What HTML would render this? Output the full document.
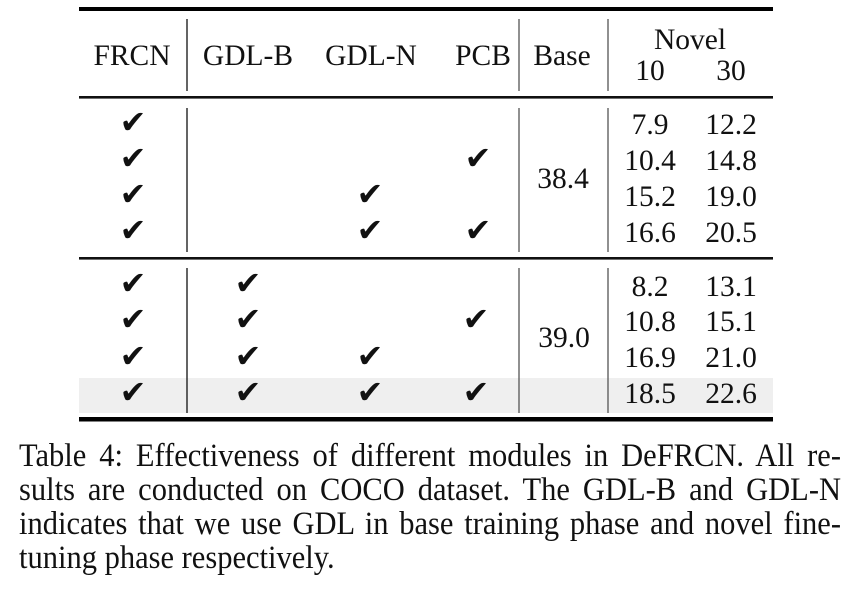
<!DOCTYPE html>
<html>
<head>
<meta charset="utf-8">
<style>
  html, body { margin: 0; padding: 0; background: #fff; }
  body { width: 856px; height: 596px; position: relative; overflow: hidden; }
  svg { position: absolute; left: 0; top: 0; }
  .t { font-family: "Liberation Serif", "Times New Roman", serif; font-size: 29.5px; fill: #111; }
  .ck { font-family: "DejaVu Sans", sans-serif; font-size: 32px; fill: #111; }
  .cap { position: absolute; left: 19px; width: 822px; font-family: "Liberation Serif", serif; font-size: 30.5px; line-height: 34px; color: #111; white-space: nowrap; transform: scaleY(1.06); transform-origin: 0 27px; }
  .j { text-align: justify; text-align-last: justify; white-space: normal; }
</style>
</head>
<body>
<svg width="856" height="596" viewBox="0 0 856 596">
  <!-- gray highlight row -->
  <rect x="79" y="378" width="694" height="35" fill="#efefef"/>
  <!-- rules -->
  <rect x="79" y="7" width="694" height="4" fill="#000"/>
  <rect x="79" y="96" width="694" height="2.6" fill="#111"/>
  <rect x="79" y="257" width="694" height="2.6" fill="#111"/>
  <rect x="79" y="417" width="694" height="4.5" fill="#000"/>
  <!-- vertical lines -->
  <g stroke-width="1.3">
    <line x1="187" y1="19" x2="187" y2="91" stroke="#111"/>
    <line x1="519" y1="19" x2="519" y2="91" stroke="#555"/>
    <line x1="608" y1="19" x2="608" y2="91" stroke="#555"/>
    <line x1="187" y1="108" x2="187" y2="252" stroke="#111"/>
    <line x1="519" y1="108" x2="519" y2="252" stroke="#555"/>
    <line x1="608" y1="108" x2="608" y2="252" stroke="#555"/>
    <line x1="187" y1="268" x2="187" y2="413" stroke="#111"/>
    <line x1="519" y1="268" x2="519" y2="413" stroke="#555"/>
    <line x1="608" y1="268" x2="608" y2="413" stroke="#555"/>
  </g>
  <!-- header -->
  <g class="t" text-anchor="middle">
    <text x="132" y="65">FRCN</text>
    <text x="248" y="65">GDL-B</text>
    <text x="371" y="65">GDL-N</text>
    <text x="483" y="65">PCB</text>
    <text x="562" y="65">Base</text>
    <text x="690" y="49">Novel</text>
    <text x="650" y="80">10</text>
    <text x="731" y="80">30</text>
  </g>
  <!-- block 1 numbers -->
  <g class="t" text-anchor="middle">
    <text x="563" y="188">38.4</text>
    <text x="650" y="134">7.9</text>
    <text x="731" y="134">12.2</text>
    <text x="650" y="170">10.4</text>
    <text x="731" y="170">14.8</text>
    <text x="650" y="206">15.2</text>
    <text x="731" y="206">19.0</text>
    <text x="650" y="242">16.6</text>
    <text x="731" y="242">20.5</text>
  </g>
  <!-- block 2 numbers -->
  <g class="t" text-anchor="middle">
    <text x="564" y="347">39.0</text>
    <text x="650" y="296">8.2</text>
    <text x="731" y="296">13.1</text>
    <text x="650" y="331">10.8</text>
    <text x="731" y="331">15.1</text>
    <text x="650" y="367">16.9</text>
    <text x="731" y="367">21.0</text>
    <text x="650" y="403">18.5</text>
    <text x="731" y="403">22.6</text>
  </g>
  <!-- checkmarks block 1 -->
  <g class="ck" text-anchor="middle">
    <text x="133" y="133">✔</text>
    <text x="133" y="169">✔</text>
    <text x="133" y="205">✔</text>
    <text x="133" y="241">✔</text>
    <text x="478" y="169">✔</text>
    <text x="370" y="205">✔</text>
    <text x="370" y="241">✔</text>
    <text x="478" y="241">✔</text>
  </g>
  <!-- checkmarks block 2 -->
  <g class="ck" text-anchor="middle">
    <text x="133" y="294">✔</text>
    <text x="248" y="294">✔</text>
    <text x="133" y="330">✔</text>
    <text x="248" y="330">✔</text>
    <text x="476" y="330">✔</text>
    <text x="133" y="367">✔</text>
    <text x="248" y="367">✔</text>
    <text x="370" y="367">✔</text>
    <text x="133" y="403">✔</text>
    <text x="248" y="403">✔</text>
    <text x="370" y="403">✔</text>
    <text x="476" y="403">✔</text>
  </g>
</svg>
<div class="cap j" style="top:439px;">Table 4: Effectiveness of different modules in DeFRCN. All re-</div>
<div class="cap j" style="top:473px;">sults are conducted on COCO dataset. The GDL-B and GDL-N</div>
<div class="cap j" style="top:507px;">indicates that we use GDL in base training phase and novel fine-</div>
<div class="cap" style="top:541px;">tuning phase respectively.</div>
</body>
</html>
